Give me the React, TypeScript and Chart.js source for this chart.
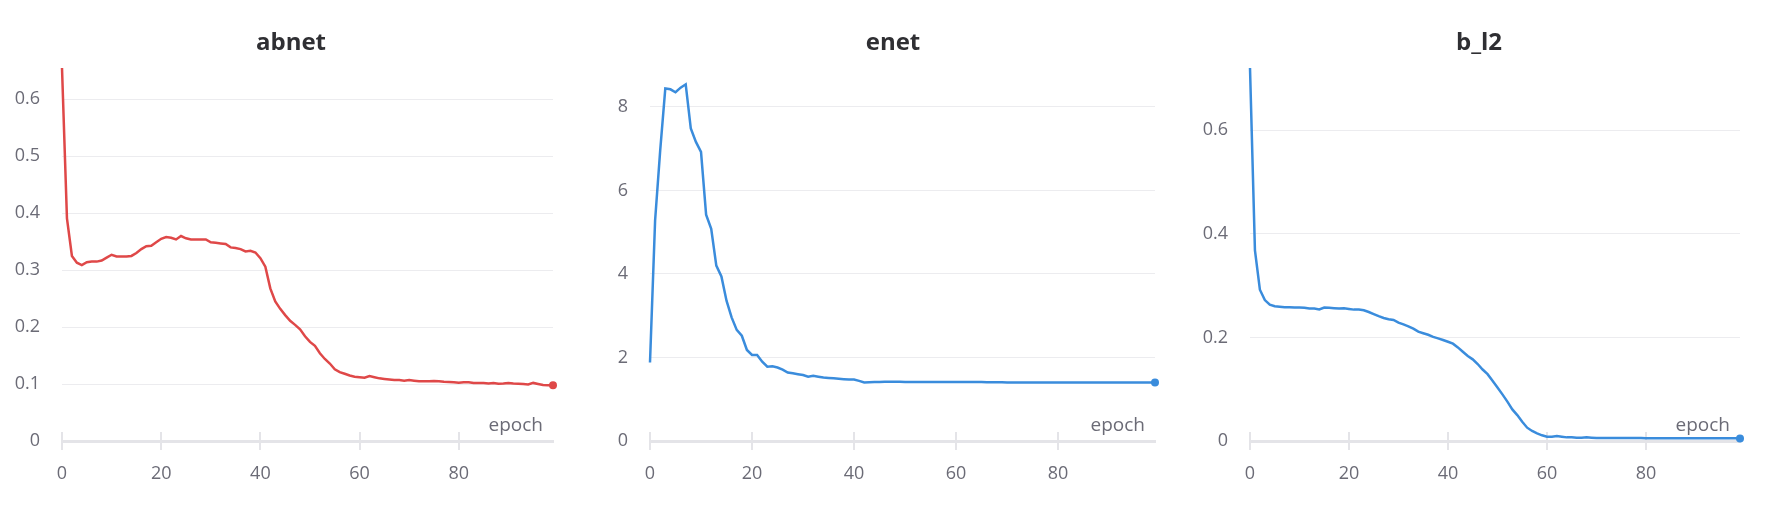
import { useEffect, useRef } from "react"
import { Chart, registerables } from "chart.js"

Chart.register(...registerables)

const epochs = [
  0, 1, 2, 3, 4, 5, 6, 7, 8, 9, 10, 11, 12, 13, 14, 15, 16, 17, 18, 19,
  20, 21, 22, 23, 24, 25, 26, 27, 28, 29, 30, 31, 32, 33, 34, 35, 36, 37, 38, 39,
  40, 41, 42, 43, 44, 45, 46, 47, 48, 49, 50, 51, 52, 53, 54, 55, 56, 57, 58, 59,
  60, 61, 62, 63, 64, 65, 66, 67, 68, 69, 70, 71, 72, 73, 74, 75, 76, 77, 78, 79,
  80, 81, 82, 83, 84, 85, 86, 87, 88, 89, 90, 91, 92, 93, 94, 95, 96, 97, 98, 99,
]

const abnetValues = [
  0.655, 0.391, 0.325, 0.313, 0.309, 0.314, 0.315, 0.315, 0.317, 0.322,
  0.327, 0.324, 0.324, 0.324, 0.325, 0.330, 0.337, 0.342, 0.343, 0.349,
  0.355, 0.358, 0.357, 0.354, 0.360, 0.356, 0.354, 0.354, 0.354, 0.354,
  0.349, 0.348, 0.347, 0.346, 0.340, 0.339, 0.337, 0.333, 0.334, 0.331,
  0.321, 0.306, 0.268, 0.245, 0.232, 0.221, 0.211, 0.204, 0.196, 0.184,
  0.174, 0.167, 0.154, 0.144, 0.136, 0.126, 0.121, 0.118, 0.115, 0.113,
  0.112, 0.111, 0.114, 0.112, 0.110, 0.109, 0.108, 0.107, 0.107, 0.106,
  0.107, 0.106, 0.105, 0.105, 0.105, 0.1053, 0.105, 0.104, 0.1035, 0.103,
  0.1023, 0.103, 0.103, 0.102, 0.1018, 0.102, 0.101, 0.102, 0.1006, 0.101,
  0.102, 0.101, 0.1006, 0.100, 0.0994, 0.102, 0.100, 0.0982, 0.0977, 0.0977,
]

const enetValues = [
  1.88, 5.28, 6.96, 8.44, 8.42, 8.35, 8.46, 8.54, 7.48, 7.16,
  6.92, 5.42, 5.08, 4.20, 3.94, 3.36, 2.96, 2.66, 2.52, 2.18,
  2.06, 2.06, 1.90, 1.78, 1.79, 1.76, 1.71, 1.64, 1.62, 1.60,
  1.58, 1.54, 1.56, 1.54, 1.52, 1.51, 1.50, 1.49, 1.48, 1.47,
  1.47, 1.44, 1.40, 1.405, 1.41, 1.415, 1.42, 1.42, 1.42, 1.42,
  1.415, 1.415, 1.415, 1.41, 1.41, 1.41, 1.41, 1.41, 1.41, 1.41,
  1.41, 1.41, 1.41, 1.41, 1.41, 1.41, 1.405, 1.405, 1.405, 1.405,
  1.40, 1.40, 1.40, 1.40, 1.40, 1.40, 1.40, 1.40, 1.40, 1.40,
  1.40, 1.40, 1.40, 1.40, 1.40, 1.40, 1.40, 1.40, 1.40, 1.40,
  1.40, 1.40, 1.40, 1.40, 1.40, 1.40, 1.40, 1.40, 1.40, 1.40,
]

const bL2Values = [
  0.72, 0.368, 0.292, 0.272, 0.263, 0.260, 0.259, 0.258, 0.258, 0.2575,
  0.2575, 0.257, 0.2556, 0.2556, 0.254, 0.2575, 0.257, 0.2563, 0.2556, 0.2563,
  0.255, 0.2536, 0.2536, 0.2523, 0.249, 0.245, 0.241, 0.2375, 0.235, 0.2336,
  0.2284, 0.225, 0.2213, 0.2168, 0.211, 0.208, 0.205, 0.201, 0.198, 0.195,
  0.1916, 0.1878, 0.1807, 0.1723, 0.164, 0.1576, 0.1486, 0.138, 0.129, 0.1164,
  0.1035, 0.090, 0.076, 0.061, 0.050, 0.0373, 0.0257, 0.0193, 0.0148, 0.011,
  0.0084, 0.0084, 0.0096, 0.0084, 0.007, 0.007, 0.0064, 0.0064, 0.007, 0.0064,
  0.006, 0.006, 0.006, 0.006, 0.006, 0.006, 0.006, 0.006, 0.006, 0.006,
  0.0055, 0.0055, 0.0055, 0.0055, 0.0055, 0.0055, 0.0055, 0.0055, 0.0055, 0.0055,
  0.0055, 0.0055, 0.0055, 0.0055, 0.0055, 0.0055, 0.0055, 0.0055, 0.0055, 0.005,
]

const FONT = "'Open Sans', 'Noto Sans', sans-serif"
const TICK_COLOR = "#6b6b76"
const AXIS_COLOR = "#e4e4e8"

// tick marks crossing the x axis line, plus the "epoch" label
const axisExtras = {
  id: "axisExtras",
  beforeDatasetsDraw(chart: any) {
    const { ctx, chartArea, scales } = chart
    const xScale = scales.x
    ctx.save()
    ctx.strokeStyle = AXIS_COLOR
    ctx.lineWidth = 2
    xScale.ticks.forEach((t: any) => {
      const px = Math.round(xScale.getPixelForValue(t.value))
      ctx.beginPath()
      ctx.moveTo(px, chartArea.bottom - 9)
      ctx.lineTo(px, chartArea.bottom + 9)
      ctx.stroke()
    })
    ctx.fillStyle = TICK_COLOR
    ctx.font = `19px ${FONT}`
    ctx.textAlign = "right"
    ctx.textBaseline = "middle"
    ctx.fillText("epoch", chartArea.right - 10, chartArea.bottom - 15)
    ctx.restore()
  },
}

// panel heading; drawn by hand so it can sit off the plot centre like the original
function makeTitle(text: string, x: number) {
  return {
    id: "panelTitle",
    afterDraw(chart: any) {
      const { ctx } = chart
      ctx.save()
      ctx.fillStyle = "#2f2f33"
      ctx.font = `bold 24px ${FONT}`
      ctx.textAlign = "center"
      ctx.textBaseline = "middle"
      ctx.fillText(text, x, 43)
      ctx.restore()
    },
  }
}

type PanelProps = {
  title: string
  values: number[]
  color: string
  yMax: number
  yStep: number
  left: number
  padRight: number
  axisWidth: number
  titleX: number
}

function LossPanel({ title, values, color, yMax, yStep, left, padRight, axisWidth, titleX }: PanelProps) {
  const chartRef = useRef<HTMLCanvasElement>(null)
  const chartInstance = useRef<Chart | null>(null)

  useEffect(() => {
    if (!chartRef.current) return
    const ctx = chartRef.current.getContext("2d")
    if (!ctx) return

    if (chartInstance.current) {
      chartInstance.current.destroy()
    }

    const last = values.length - 1

    chartInstance.current = new Chart(ctx, {
      type: "line",
      data: {
        datasets: [
          {
            label: title,
            data: epochs.map((e, i) => ({ x: e, y: values[i] })),
            borderColor: color,
            backgroundColor: color,
            borderWidth: 2.5,
            tension: 0,
            clip: false as any,
            pointRadius: (c: any) => (c.dataIndex === last ? 4 : 0),
            pointBorderWidth: 0,
            pointBackgroundColor: color,
          },
        ],
      },
      plugins: [axisExtras, makeTitle(title, titleX)],
      options: {
        responsive: false,
        animation: false,
        layout: {
          padding: { left: 0, right: padRight, top: 68, bottom: 13.4 },
        },
        scales: {
          x: {
            type: "linear",
            min: 0,
            max: 99,
            grid: { display: false },
            border: { display: true, color: AXIS_COLOR, width: 3 },
            ticks: {
              stepSize: 20,
              includeBounds: false,
              padding: 14,
              color: TICK_COLOR,
              font: { family: FONT, size: 18 },
              maxRotation: 0,
            },
          },
          y: {
            min: 0,
            max: yMax,
            afterFit: (scale: any) => {
              scale.width = axisWidth
            },
            grid: { color: "#ececef", lineWidth: 1, drawTicks: false },
            border: { display: false },
            ticks: {
              stepSize: yStep,
              includeBounds: false,
              padding: 22,
              color: TICK_COLOR,
              font: { family: FONT, size: 18 },
              callback: (v: any) => String(+Number(v).toFixed(3)),
            },
          },
        },
        plugins: {
          legend: { display: false },
          tooltip: { enabled: false },
          title: { display: false },
        },
      } as any,
    })

    return () => {
      if (chartInstance.current) {
        chartInstance.current.destroy()
        chartInstance.current = null
      }
    }
  }, [])

  return (
    <div style={{ position: "absolute", left, top: 0, width: 591, height: 512 }}>
      <canvas ref={chartRef} width={591} height={512} style={{ display: "block" }} />
    </div>
  )
}

export default function App() {
  return (
    <div style={{ position: "absolute", left: 0, top: 0, width: 1773, height: 512, background: "#fff" }}>
      <LossPanel title="abnet" values={abnetValues} color="#df4848" yMax={0.655} yStep={0.1}
        left={0} padRight={38} axisWidth={62} titleX={291} />
      <LossPanel title="enet" values={enetValues} color="#3a8cdc" yMax={8.93} yStep={2}
        left={591} padRight={27} axisWidth={59} titleX={302} />
      <LossPanel title="b_l2" values={bL2Values} color="#3a8cdc" yMax={0.72} yStep={0.2}
        left={1182} padRight={33} axisWidth={68} titleX={297} />
    </div>
  )
}
